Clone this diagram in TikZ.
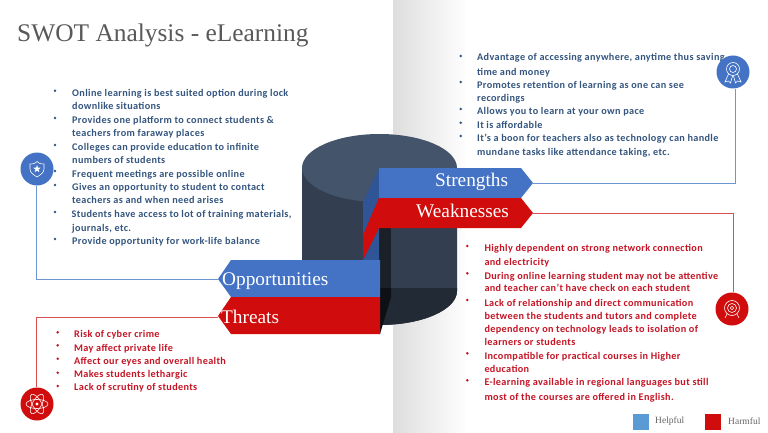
\documentclass[tikz,border=0pt]{standalone}
\usepackage{fontspec}
\setmainfont{Liberation Serif}
\newfontfamily\bodyfont[LetterSpace=3.5]{Carlito}
\usetikzlibrary{calc}
\definecolor{navy}{HTML}{34557F}
\definecolor{redtxt}{HTML}{C51525}
\definecolor{bluebox}{HTML}{4472C4}
\definecolor{redbox}{HTML}{D00C0C}
\definecolor{bluedark}{HTML}{2F5597}
\definecolor{lineblue}{HTML}{6C97D2}
\definecolor{linered}{HTML}{DB4F50}
\definecolor{legblue}{HTML}{5B9BD5}
\definecolor{cyltop}{HTML}{44546A}
\definecolor{cylbody}{HTML}{333F50}
\definecolor{cyldark}{HTML}{222B35}
\newcounter{tc}
\tikzset{
 x=1pt,y=-1pt,
 bodytext/.style={anchor=base west,inner sep=0pt,font=\bodyfont\fontsize{10.2}{11}\selectfont\bfseries},
 armlabel/.style={anchor=mid west,inner sep=0pt,text=white,font=\fontsize{19.3}{21}\selectfont},
 iconcircle/.style={circle,minimum size=33pt,inner sep=0pt},
 anchorpt/.style={inner sep=0pt,minimum size=0pt},
 conn/.style={line width=1pt},
 ico/.style={draw=white,line width=.6pt,fill=none},
 legendtext/.style={anchor=west,inner sep=0pt,text=black!60,font=\fontsize{9.5}{10}\selectfont},
}
\newcommand{\tl}[4]{\stepcounter{tc}\node[bodytext,text=#1] (t\arabic{tc}) at (#2,#3+3.7) {#4};}
\newcommand{\bl}[3]{\fill[#1] (#2,#3) circle (1.4pt);}
\begin{document}
\begin{tikzpicture}
\useasboundingbox (0,0) rectangle (768,433);
\fill[white] (0,0) rectangle (768,433);
\shade[left color=black!13,right color=white] (393,0) rectangle (468,433);
% cylinder
\fill[cylbody] (302,168) -- (302,291) arc[start angle=180,end angle=360,x radius=77.5,y radius=-34] -- (457,168) -- cycle;
\fill[cyldark] (302,288) -- (457,288) -- (457,291) arc[start angle=0,end angle=180,x radius=77.5,y radius=34] -- cycle;
\fill[cyltop] (379.5,168) ellipse[x radius=77.5,y radius=34];
\fill[black!50!cylbody] (379,228) rectangle (391,288);
\fill[black!75!cylbody] (379,288) -- (391,288) -- (391,297) -- (380,334) -- (379,334) -- cycle;
% side faces
\fill[bluedark] (379,168) -- (363,202) -- (363,260) -- (379,260) -- cycle;
\fill[redbox] (379,198) -- (363,235) -- (363,260) -- (379,228) -- cycle;
% arrows
\fill[bluebox] (379,168) -- (521,168) -- (533,183) -- (521,198) -- (379,198) -- cycle;
\fill[redbox] (379,198) -- (521,198) -- (533,213) -- (521,228) -- (379,228) -- cycle;
\fill[bluebox] (380,260) -- (231,260) -- (218,279) -- (231,297) -- (380,297) -- cycle;
\fill[redbox] (380,297) -- (231,297) -- (218,316) -- (231,334) -- (380,334) -- cycle;
\node[anchorpt] (sarm) at (533,183) {};
\node[anchorpt] (warm) at (533,213) {};
\node[anchorpt] (oarm) at (218,279) {};
\node[anchorpt] (tarm) at (218,317) {};
\node[armlabel] (sl) at (435,184) {Strengths};
\node[armlabel] (wl) at (416,215) {Weaknesses};
\node[armlabel] (ol) at (222,283) {Opportunities};
\node[armlabel] (tl) at (221,321) {Threats};
% title
\node[anchor=base west,inner sep=0pt,text=black!65,font=\fontsize{25.4}{28}\selectfont] (title) at (17,41.5) {SWOT Analysis - eLearning};
% opportunities text
\foreach \y in {90.7,118,145,171,185,212,239} {\bl{navy}{55}{\y}}
\tl{navy}{72}{92.7}{Online learning is best suited option during lock}
\tl{navy}{72}{106}{downlike situations}
\tl{navy}{72}{120}{Provides one platform to connect students \&}
\tl{navy}{72}{133}{teachers from faraway places}
\tl{navy}{72}{146.7}{Colleges can provide education to infinite}
\tl{navy}{72}{159.7}{numbers of students}
\tl{navy}{72}{173.7}{Frequent meetings are possible online}
\tl{navy}{72}{187}{Gives an opportunity to student to contact}
\tl{navy}{72}{200}{teachers as and when need arises}
\tl{navy}{71.5}{213.5}{Students have access to lot of training materials,}
\tl{navy}{72}{227.7}{journals, etc.}
\tl{navy}{72}{240.7}{Provide opportunity for work-life balance}
% strengths text
\foreach \y in {56,82,109,122.7,136} {\bl{navy}{460.7}{\y}}
\tl{navy}{477}{57.3}{Advantage of accessing anywhere, anytime thus saving}
\tl{navy}{477}{71.7}{time and money}
\tl{navy}{477}{84.7}{Promotes retention of learning as one can see}
\tl{navy}{477}{98}{recordings}
\tl{navy}{477}{111}{Allows you to learn at your own pace}
\tl{navy}{477}{125}{It is affordable}
\tl{navy}{477}{138.3}{It’s a boon for teachers also as technology can handle}
\tl{navy}{477}{151.7}{mundane tasks like attendance taking, etc.}
% weaknesses text
\foreach \y in {246,273.3,300,353.3,380.3} {\bl{redtxt}{467.3}{\y}}
\tl{redtxt}{484.3}{248}{Highly dependent on strong network connection}
\tl{redtxt}{484.3}{262}{and electricity}
\tl{redtxt}{484.3}{275.3}{During online learning student may not be attentive}
\tl{redtxt}{484.3}{288}{and teacher can’t have check on each student}
\tl{redtxt}{484.3}{302.3}{Lack of relationship and direct communication}
\tl{redtxt}{484.3}{315.7}{between the students and tutors and complete}
\tl{redtxt}{484.3}{328.7}{dependency on technology leads to isolation of}
\tl{redtxt}{484.3}{342}{learners or students}
\tl{redtxt}{484.3}{355.7}{Incompatible for practical courses in Higher}
\tl{redtxt}{484.3}{369}{education}
\tl{redtxt}{484.3}{382}{E-learning available in regional languages but still}
\tl{redtxt}{484.3}{396.3}{most of the courses are offered in English.}
% threats text
\foreach \y in {332.3,345.3,358.7,372.7,386} {\bl{redtxt}{57.7}{\y}}
\tl{redtxt}{74}{333.3}{Risk of cyber crime}
\tl{redtxt}{74}{347.7}{May affect private life}
\tl{redtxt}{74}{360.7}{Affect our eyes and overall health}
\tl{redtxt}{74}{373.7}{Makes students lethargic}
\tl{redtxt}{74}{387}{Lack of scrutiny of students}
% connectors and icon discs, over the text as in the reference
\node[iconcircle,fill=bluebox] (sic) at (733,72) {};
\node[iconcircle,fill=redbox] (wic) at (732,309) {};
\node[iconcircle,fill=bluebox] (oic) at (37,169) {};
\node[iconcircle,fill=redbox] (tic) at (37,404) {};
\coordinate (sc) at (735,183);
\coordinate (wc) at (733,213);
\coordinate (oc) at (36,279);
\coordinate (tc) at (36,317);
\draw[conn,draw=lineblue] (sarm) -- (sc) -- (sc|-sic.south);
\draw[conn,draw=linered] (warm) -- (wc) -- (wc|-wic.north);
\draw[conn,draw=lineblue] (oarm) -- (oc) -- (oc|-oic.south);
\draw[conn,draw=linered] (tarm) -- (tc) -- (tc|-tic.north);
% icons
\begin{scope}[shift={(37,169)}]
 \draw[ico] (-7,-5) .. controls (-3,-5) and (-1,-6) .. (0,-7.5) .. controls (1,-6) and (3,-5) .. (7,-5) -- (7,0) .. controls (7,4) and (3,6) .. (0,8) .. controls (-3,6) and (-7,4) .. (-7,0) -- cycle;
 \fill[white] (90:-4) -- (126:-1.6) -- (162:-4) -- (198:-1.6) -- (234:-4) -- (270:-1.6) -- (306:-4) -- (342:-1.6) -- (18:-4) -- (54:-1.6) -- cycle;
\end{scope}
\begin{scope}[shift={(733,72)}]
 \draw[ico] (0,-3) circle (6.5);
 \draw[ico] (0,-3) circle (3.5);
 \draw[ico] (-4.5,2) -- (-8,10) -- (-4.5,9) -- (-2.5,11) -- (-0.5,4);
 \draw[ico] (4.5,2) -- (8,10) -- (4.5,9) -- (2.5,11) -- (0.5,4);
\end{scope}
\begin{scope}[shift={(732,309)}]
 \draw[ico] (0,-1) circle (7.5);
 \draw[ico] (0,-1) circle (4.5);
 \draw[ico] (0,-1) circle (1.8);
 \draw[ico] (-5,5) -- (-7,9);
 \draw[ico] (5,5) -- (7,9);
\end{scope}
\begin{scope}[shift={(37,404)}]
 \draw[ico] (0,0) ellipse[x radius=11,y radius=4.5];
 \draw[ico,rotate=60] (0,0) ellipse[x radius=11,y radius=4.5];
 \draw[ico,rotate=-60] (0,0) ellipse[x radius=11,y radius=4.5];
 \fill[white] (0,0) circle (1.6);
\end{scope}
% legend
\fill[legblue] (633,414) rectangle (649,430);
\fill[redbox] (705,414) rectangle (721,430);
\node[legendtext] (lg1) at (655,421) {Helpful};
\node[legendtext] (lg2) at (728,421) {Harmful};
\end{tikzpicture}
\end{document}
